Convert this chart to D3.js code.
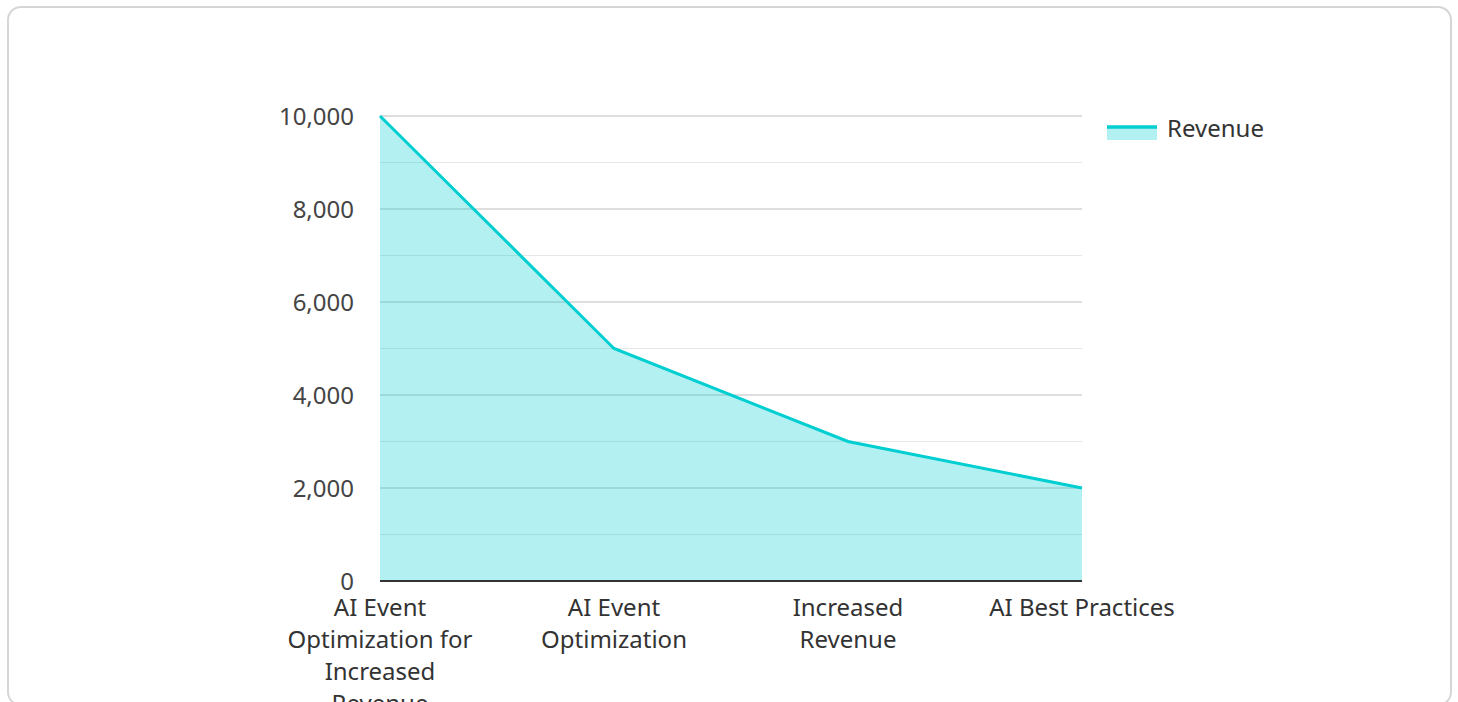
<!DOCTYPE html>
<html>
<head>
<meta charset="utf-8">
<script src="https://cdn.jsdelivr.net/npm/d3@7"></script>
<style>
  body { margin: 0; background: #fff; font-family: "Noto Sans", "Open Sans", sans-serif; }
  #card {
    position: absolute; left: 7px; top: 6px; width: 1445px; height: 700px;
    border: 2px solid #d6d6d6; border-radius: 14px; box-sizing: border-box; overflow: hidden;
  }
  svg { position: absolute; left: 0; top: 0; }
</style>
</head>
<body>
<div id="card"></div>
<svg id="chart" width="1458" height="702"></svg>
<script>
// chart data
const categories = ['AI Event Optimization for Increased Revenue', 'AI Event Optimization', 'Increased Revenue', 'AI Best Practices'];
const revenue = [10000, 5000, 3000, 2000];
const yTicks = [0, 2000, 4000, 6000, 8000, 10000];
const seriesName = 'Revenue';

const margin = { left: 380, right: 376, top: 116, bottom: 121 };
const width = 1458, height = 702;
const fontSize = 24;
const svg = d3.select('#chart');

const x = d3.scalePoint()
  .domain(categories)
  .range([margin.left, width - margin.right]);

const y = d3.scaleLinear()
  .domain([0, 10000])
  .range([height - margin.bottom, margin.top]);

// minor grid lines
const minor = d3.range(1000, 10001, 2000);
svg.append('g')
  .selectAll('line')
  .data(minor)
  .enter().append('line')
  .attr('x1', margin.left).attr('x2', width - margin.right)
  .attr('y1', d => y(d)).attr('y2', d => y(d))
  .attr('stroke', '#e6e6e6').attr('stroke-width', 1);

// major grid lines
svg.append('g')
  .selectAll('line')
  .data(yTicks.filter(d => d > 0))
  .enter().append('line')
  .attr('x1', margin.left).attr('x2', width - margin.right)
  .attr('y1', d => y(d)).attr('y2', d => y(d))
  .attr('stroke', '#bdbdbd').attr('stroke-width', 1);

const data = categories.map((c, i) => ({ c, v: revenue[i] }));

// area
svg.append('path')
  .datum(data)
  .attr('fill', 'rgba(0,206,209,0.3)')
  .attr('d', d3.area().x(d => x(d.c)).y0(y(0)).y1(d => y(d.v)));

// line
svg.append('path')
  .datum(data)
  .attr('fill', 'none')
  .attr('stroke', '#00ced1')
  .attr('stroke-width', 3)
  .attr('d', d3.line().x(d => x(d.c)).y(d => y(d.v)));

// y axis labels
const yAxis = svg.append('g')
  .attr('transform', `translate(${margin.left},0)`)
  .call(d3.axisLeft(y).tickValues(yTicks).tickFormat(d3.format(',')).tickSize(0).tickPadding(26));
yAxis.select('.domain').remove();
yAxis.selectAll('text')
  .attr('font-family', '"Noto Sans", sans-serif')
  .attr('font-size', fontSize)
  .attr('fill', '#444')
  .attr('dy', '0.35em');

// x axis line
svg.append('line')
  .attr('x1', margin.left).attr('x2', width - margin.right)
  .attr('y1', y(0)).attr('y2', y(0))
  .attr('stroke', '#333').attr('stroke-width', 2);

// x labels with wrapping
function wrap(text, w) {
  const words = text.split(' ');
  const lines = [];
  let cur = '';
  words.forEach(word => {
    const test = cur ? cur + ' ' + word : word;
    if (test.length > w && cur) { lines.push(cur); cur = word; } else cur = test;
  });
  if (cur) lines.push(cur);
  return lines;
}
const xl = svg.append('g');
categories.forEach((c, i) => {
  const lines = i === categories.length - 1 ? [c] : wrap(c, 16);
  const t = xl.append('text')
    .attr('x', x(c))
    .attr('y', 616)
    .attr('text-anchor', 'middle')
    .attr('font-family', '"Noto Sans", sans-serif')
    .attr('font-size', fontSize)
    .attr('fill', '#333');
  lines.forEach((l, j) => {
    t.append('tspan').attr('x', x(c)).attr('dy', j === 0 ? 0 : 32).text(l);
  });
});

// legend
const lg = svg.append('g').attr('transform', 'translate(1107,125)');
lg.append('rect').attr('x', 0).attr('y', 2).attr('width', 50).attr('height', 13).attr('fill', 'rgba(0,206,209,0.3)');
lg.append('line').attr('x1', 0).attr('x2', 50).attr('y1', 2).attr('y2', 2).attr('stroke', '#00ced1').attr('stroke-width', 3.5);
lg.append('text').attr('x', 60).attr('y', 11.5)
  .attr('font-family', '"Noto Sans", sans-serif')
  .attr('font-size', fontSize).attr('fill', '#333').text(seriesName);
</script>
</body>
</html>
